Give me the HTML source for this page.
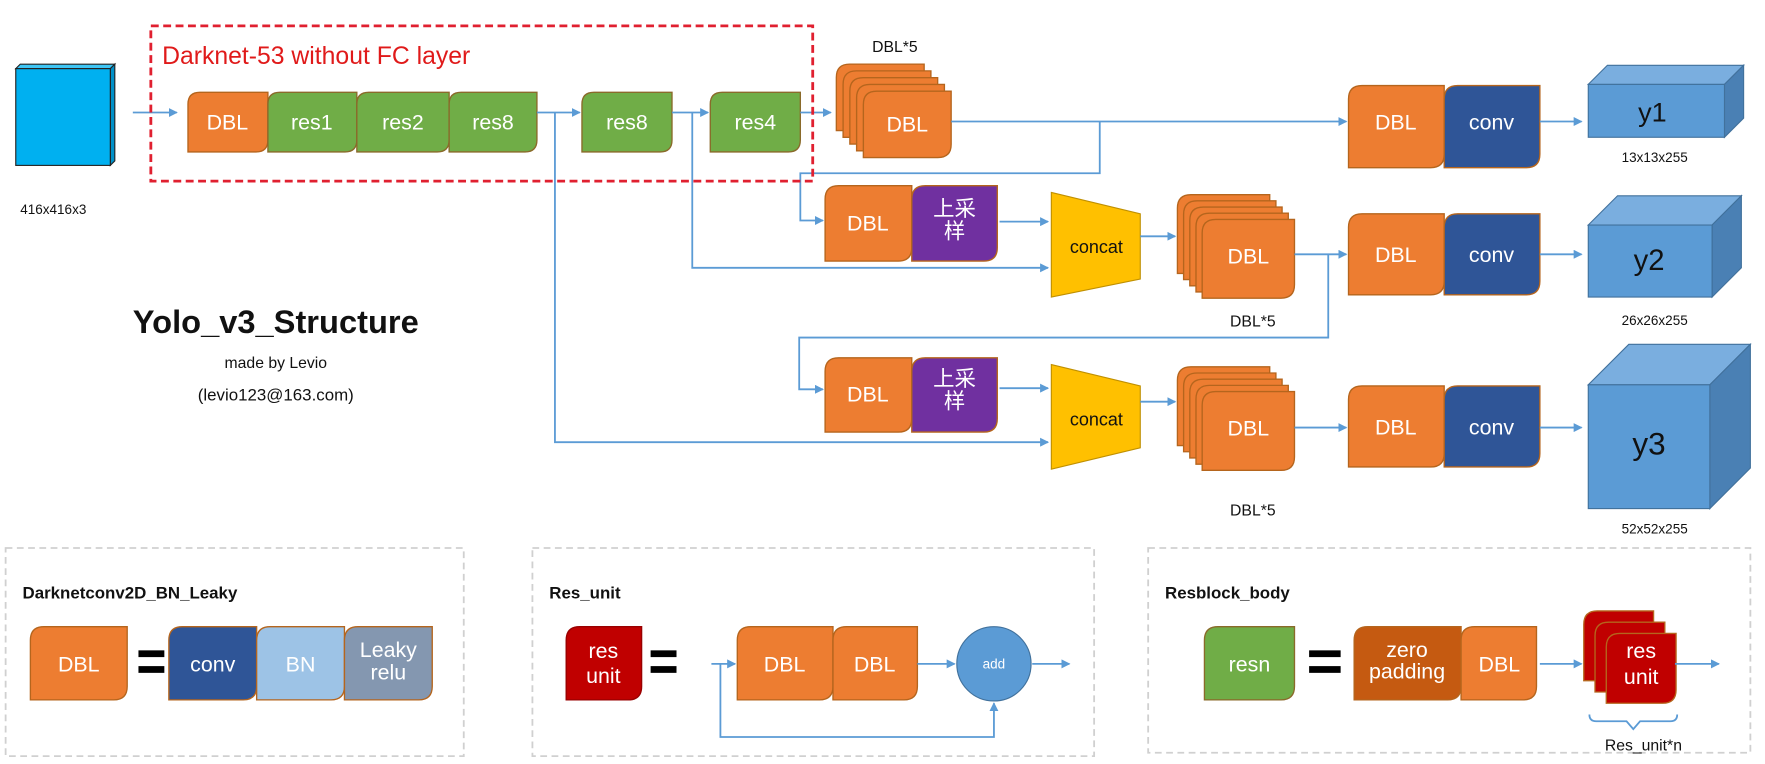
<!DOCTYPE html>
<html><head><meta charset="utf-8"><style>
html,body{margin:0;padding:0;background:#fff;width:1765px;height:764px;overflow:hidden}
svg{display:block}
text{font-family:"Liberation Sans","Noto Sans CJK SC",sans-serif}
.w{fill:#fff;font-size:19px;text-anchor:middle}
.k{fill:#111;font-size:14px;text-anchor:middle}
</style></head><body>
<svg id="s" width="1765" height="764" viewBox="0 0 1568 679" preserveAspectRatio="none" xmlns="http://www.w3.org/2000/svg">
<defs><marker id="a" markerWidth="8" markerHeight="8" refX="7" refY="4" orient="auto" markerUnits="userSpaceOnUse"><path d="M0,0 L8,4 L0,8 Z" fill="#5b9bd5"/></marker></defs>
<g id="shapes"></g>
<g id="lines" fill="none" stroke="#5b9bd5" stroke-width="1.6">
<path d="M118,100 H157" marker-end="url(#a)"/>
<path d="M477,100 H515" marker-end="url(#a)"/>
<path d="M597,100 H629" marker-end="url(#a)"/>
<path d="M711,100 H738" marker-end="url(#a)"/>
<path d="M493,100 V393 H931" marker-end="url(#a)"/>
<path d="M615,100 V238 H931" marker-end="url(#a)"/>
<path d="M845,108 H1196" marker-end="url(#a)"/>
<path d="M977,108 V154 H711 V196 H731" marker-end="url(#a)"/>
<path d="M888,197 H931" marker-end="url(#a)"/>
<path d="M1013,210 H1044" marker-end="url(#a)"/>
<path d="M1150,226 H1196" marker-end="url(#a)"/>
<path d="M1180,226 V300 H710 V346 H731" marker-end="url(#a)"/>
<path d="M888,345 H931" marker-end="url(#a)"/>
<path d="M1013,357 H1044" marker-end="url(#a)"/>
<path d="M1150,380 H1196" marker-end="url(#a)"/>
<path d="M1368,108 H1405" marker-end="url(#a)"/>
<path d="M1368,226 H1405" marker-end="url(#a)"/>
<path d="M1368,380 H1405" marker-end="url(#a)"/>
<path d="M632,590 H653" marker-end="url(#a)"/>
<path d="M815,590 H848" marker-end="url(#a)"/>
<path d="M917,590 H950" marker-end="url(#a)"/>
<path d="M640,590 V655 H883 V625" marker-end="url(#a)"/>
<path d="M1368,590 H1405" marker-end="url(#a)"/>
<path d="M1488,590 H1527" marker-end="url(#a)"/>
<path d="M1412,635 Q1412,641 1418,641 H1445 L1451,648 L1457,641 H1484 Q1490,641 1490,635" stroke="#5b9bd5"/>
</g>
<rect x="134" y="23" width="588" height="138" fill="none" stroke="#e02030" stroke-width="2.5" stroke-dasharray="7,4"/>
<g fill="none" stroke="#d0d0d0" stroke-width="1.6" stroke-dasharray="6,4">
<rect x="5" y="487" width="407" height="185"/>
<rect x="473" y="487" width="499" height="185"/>
<rect x="1020" y="487" width="535" height="182"/>
</g>
<g fill="#000">
<rect x="123" y="578" width="23" height="6"/><rect x="123" y="592" width="23" height="6"/>
<rect x="578" y="578" width="23" height="6"/><rect x="578" y="592" width="23" height="6"/>
<rect x="1163" y="578" width="28" height="6"/><rect x="1163" y="592" width="28" height="6"/>
</g>
<g id="texts">
<text x="144" y="57" fill="#e01a1a" font-size="22">Darknet-53 without FC layer</text>
<text x="18" y="190" fill="#111" font-size="12">416x416x3</text>
<text class="w" x="202" y="115">DBL</text>
<text class="w" x="277" y="115">res1</text>
<text class="w" x="358" y="115">res2</text>
<text class="w" x="438" y="115">res8</text>
<text class="w" x="557" y="115">res8</text>
<text class="w" x="671" y="115">res4</text>
<text class="w" x="806" y="117">DBL</text>
<text class="k" x="795" y="46">DBL*5</text>
<text class="w" x="771" y="205">DBL</text>
<text class="w" x="848" y="192" font-size="16">上采</text>
<text class="w" x="848" y="212" font-size="16">样</text>
<text class="w" x="771" y="357">DBL</text>
<text class="w" x="848" y="343" font-size="16">上采</text>
<text class="w" x="848" y="363" font-size="16">样</text>
<text x="974" y="225" font-size="16" fill="#111" text-anchor="middle">concat</text>
<text x="974" y="378" font-size="16" fill="#111" text-anchor="middle">concat</text>
<text class="w" x="1109" y="234">DBL</text>
<text class="w" x="1109" y="387">DBL</text>
<text class="k" x="1113" y="290">DBL*5</text>
<text class="k" x="1113" y="458">DBL*5</text>
<text class="w" x="1240" y="115">DBL</text><text class="w" x="1325" y="115">conv</text>
<text class="w" x="1240" y="233">DBL</text><text class="w" x="1325" y="233">conv</text>
<text class="w" x="1240" y="386">DBL</text><text class="w" x="1325" y="386">conv</text>
<text x="1468" y="108" font-size="24" fill="#111" text-anchor="middle">y1</text>
<text x="1465" y="240" font-size="26" fill="#111" text-anchor="middle">y2</text>
<text x="1465" y="404" font-size="28" fill="#111" text-anchor="middle">y3</text>
<text x="1470" y="144" font-size="12" fill="#111" text-anchor="middle">13x13x255</text>
<text x="1470" y="289" font-size="12" fill="#111" text-anchor="middle">26x26x255</text>
<text x="1470" y="474" font-size="12" fill="#111" text-anchor="middle">52x52x255</text>
<text x="245" y="296" font-size="29" font-weight="bold" fill="#111" text-anchor="middle">Yolo_v3_Structure</text>
<text x="245" y="327" font-size="14" fill="#111" text-anchor="middle">made by Levio</text>
<text x="245" y="356" font-size="15" fill="#111" text-anchor="middle">(levio123@163.com)</text>
<text x="20" y="532" font-size="15" font-weight="bold" fill="#111">Darknetconv2D_BN_Leaky</text>
<text x="488" y="532" font-size="15" font-weight="bold" fill="#111">Res_unit</text>
<text x="1035" y="532" font-size="15" font-weight="bold" fill="#111">Resblock_body</text>
<text class="w" x="70" y="597">DBL</text>
<text class="w" x="189" y="597">conv</text>
<text class="w" x="267" y="597">BN</text>
<text class="w" x="345" y="584" font-size="13">Leaky</text>
<text class="w" x="345" y="604" font-size="13">relu</text>
<text class="w" x="536" y="585">res</text>
<text class="w" x="536" y="607">unit</text>
<text class="w" x="697" y="597">DBL</text>
<text class="w" x="777" y="597">DBL</text>
<text x="883" y="594" font-size="12" fill="#fff" text-anchor="middle">add</text>
<text class="w" x="1110" y="597">resn</text>
<text class="w" x="1250" y="584" font-size="14">zero</text>
<text class="w" x="1250" y="603" font-size="14">padding</text>
<text class="w" x="1332" y="597">DBL</text>
<text class="w" x="1458" y="585">res</text>
<text class="w" x="1458" y="608">unit</text>
<text x="1460" y="667" font-size="14" fill="#111" text-anchor="middle">Res_unit*n</text>
</g>
</svg>
<script>
var g=document.getElementById('shapes'),NS='http://www.w3.org/2000/svg';
function el(t,at){var e=document.createElementNS(NS,t);for(var k in at)e.setAttribute(k,at[k]);g.appendChild(e);return e;}
function blk(x,y,w,h,f,s){var r=Math.min(12,h*0.2);el('path',{d:'M'+(x+r)+','+y+' H'+(x+w)+' V'+(y+h-r)+' Q'+(x+w)+','+(y+h)+' '+(x+w-r)+','+(y+h)+' H'+x+' V'+(y+r)+' Q'+x+','+y+' '+(x+r)+','+y+' Z',fill:f,stroke:s||'#b5651d','stroke-width':1.2});}
var O='#ed7d31',G='#70ad47',P='#7030a0',C='#2f5597';
// input cube
el('path',{d:'M14,61 L18,57 L102,57 L98,61 Z',fill:'#3fc6f5',stroke:'#222','stroke-width':1});
el('path',{d:'M98,61 L102,57 L102,143 L98,147 Z',fill:'#0090c8',stroke:'#222','stroke-width':1});
el('rect',{x:14,y:61,width:84,height:86,fill:'#00b0f0',stroke:'#222','stroke-width':1});
blk(167,82,71,53,O);blk(238,82,79,53,G,'#8a6a2a');blk(317,82,82,53,G,'#8a6a2a');blk(399,82,78,53,G,'#8a6a2a');
blk(517,82,80,53,G,'#8a6a2a');blk(631,82,80,53,G,'#8a6a2a');
function stack(x,y,w,h,n,d,f){for(var i=0;i<n;i++)blk(x+i*d,y+i*d,w,h,f,'#b5651d');}
stack(743,57,78,59,5,6,O);
blk(733,165,77,67,O);blk(810,165,76,67,P,'#b5651d');
blk(733,318,77,66,O);blk(810,318,76,66,P,'#b5651d');
function trap(y1,y2,y3,y4){el('path',{d:'M934,'+y1+' L1013,'+y3+' L1013,'+y4+' L934,'+y2+' Z',fill:'#ffc000',stroke:'#c09000','stroke-width':1});}
trap(171,264,190,248);trap(324,417,343,398);
stack(1046,173,82,70,5,5.5,O);stack(1046,326,82,70,5,5.5,O);
blk(1198,76,85,73,O);blk(1283,76,85,73,C);
blk(1198,190,85,72,O);blk(1283,190,85,72,C);
blk(1198,343,85,72,O);blk(1283,343,85,72,C);
function cube(x,y,w,h,d){el('path',{d:'M'+x+','+y+' L'+(x+d)+','+(y-d)+' L'+(x+w+d)+','+(y-d)+' L'+(x+w)+','+y+' Z',fill:'#7aaedf',stroke:'#41719c','stroke-width':1});
el('path',{d:'M'+(x+w)+','+y+' L'+(x+w+d)+','+(y-d)+' L'+(x+w+d)+','+(y+h-d)+' L'+(x+w)+','+(y+h)+' Z',fill:'#4a80b4',stroke:'#41719c','stroke-width':1});
el('rect',{x:x,y:y,width:w,height:h,fill:'#5b9bd5',stroke:'#41719c','stroke-width':1});}
cube(1411,75,121,47,17);cube(1411,200,110,64,26);cube(1411,342,108,110,36);
blk(27,557,86,65,O);blk(150,557,78,65,C);blk(228,557,78,65,'#9dc3e6');blk(306,557,78,65,'#8497b0');
blk(503,557,67,65,'#c00000','#900');blk(655,557,85,65,O);blk(740,557,75,65,O);
el('circle',{cx:883,cy:590,r:33,fill:'#5b9bd5',stroke:'#41719c','stroke-width':1});
blk(1070,557,80,65,G,'#8a6a2a');blk(1203,557,95,65,'#c55a11');blk(1298,557,67,65,O);
stack(1407,543,62,62,3,10,'#c00000');
</script>
</body></html>
